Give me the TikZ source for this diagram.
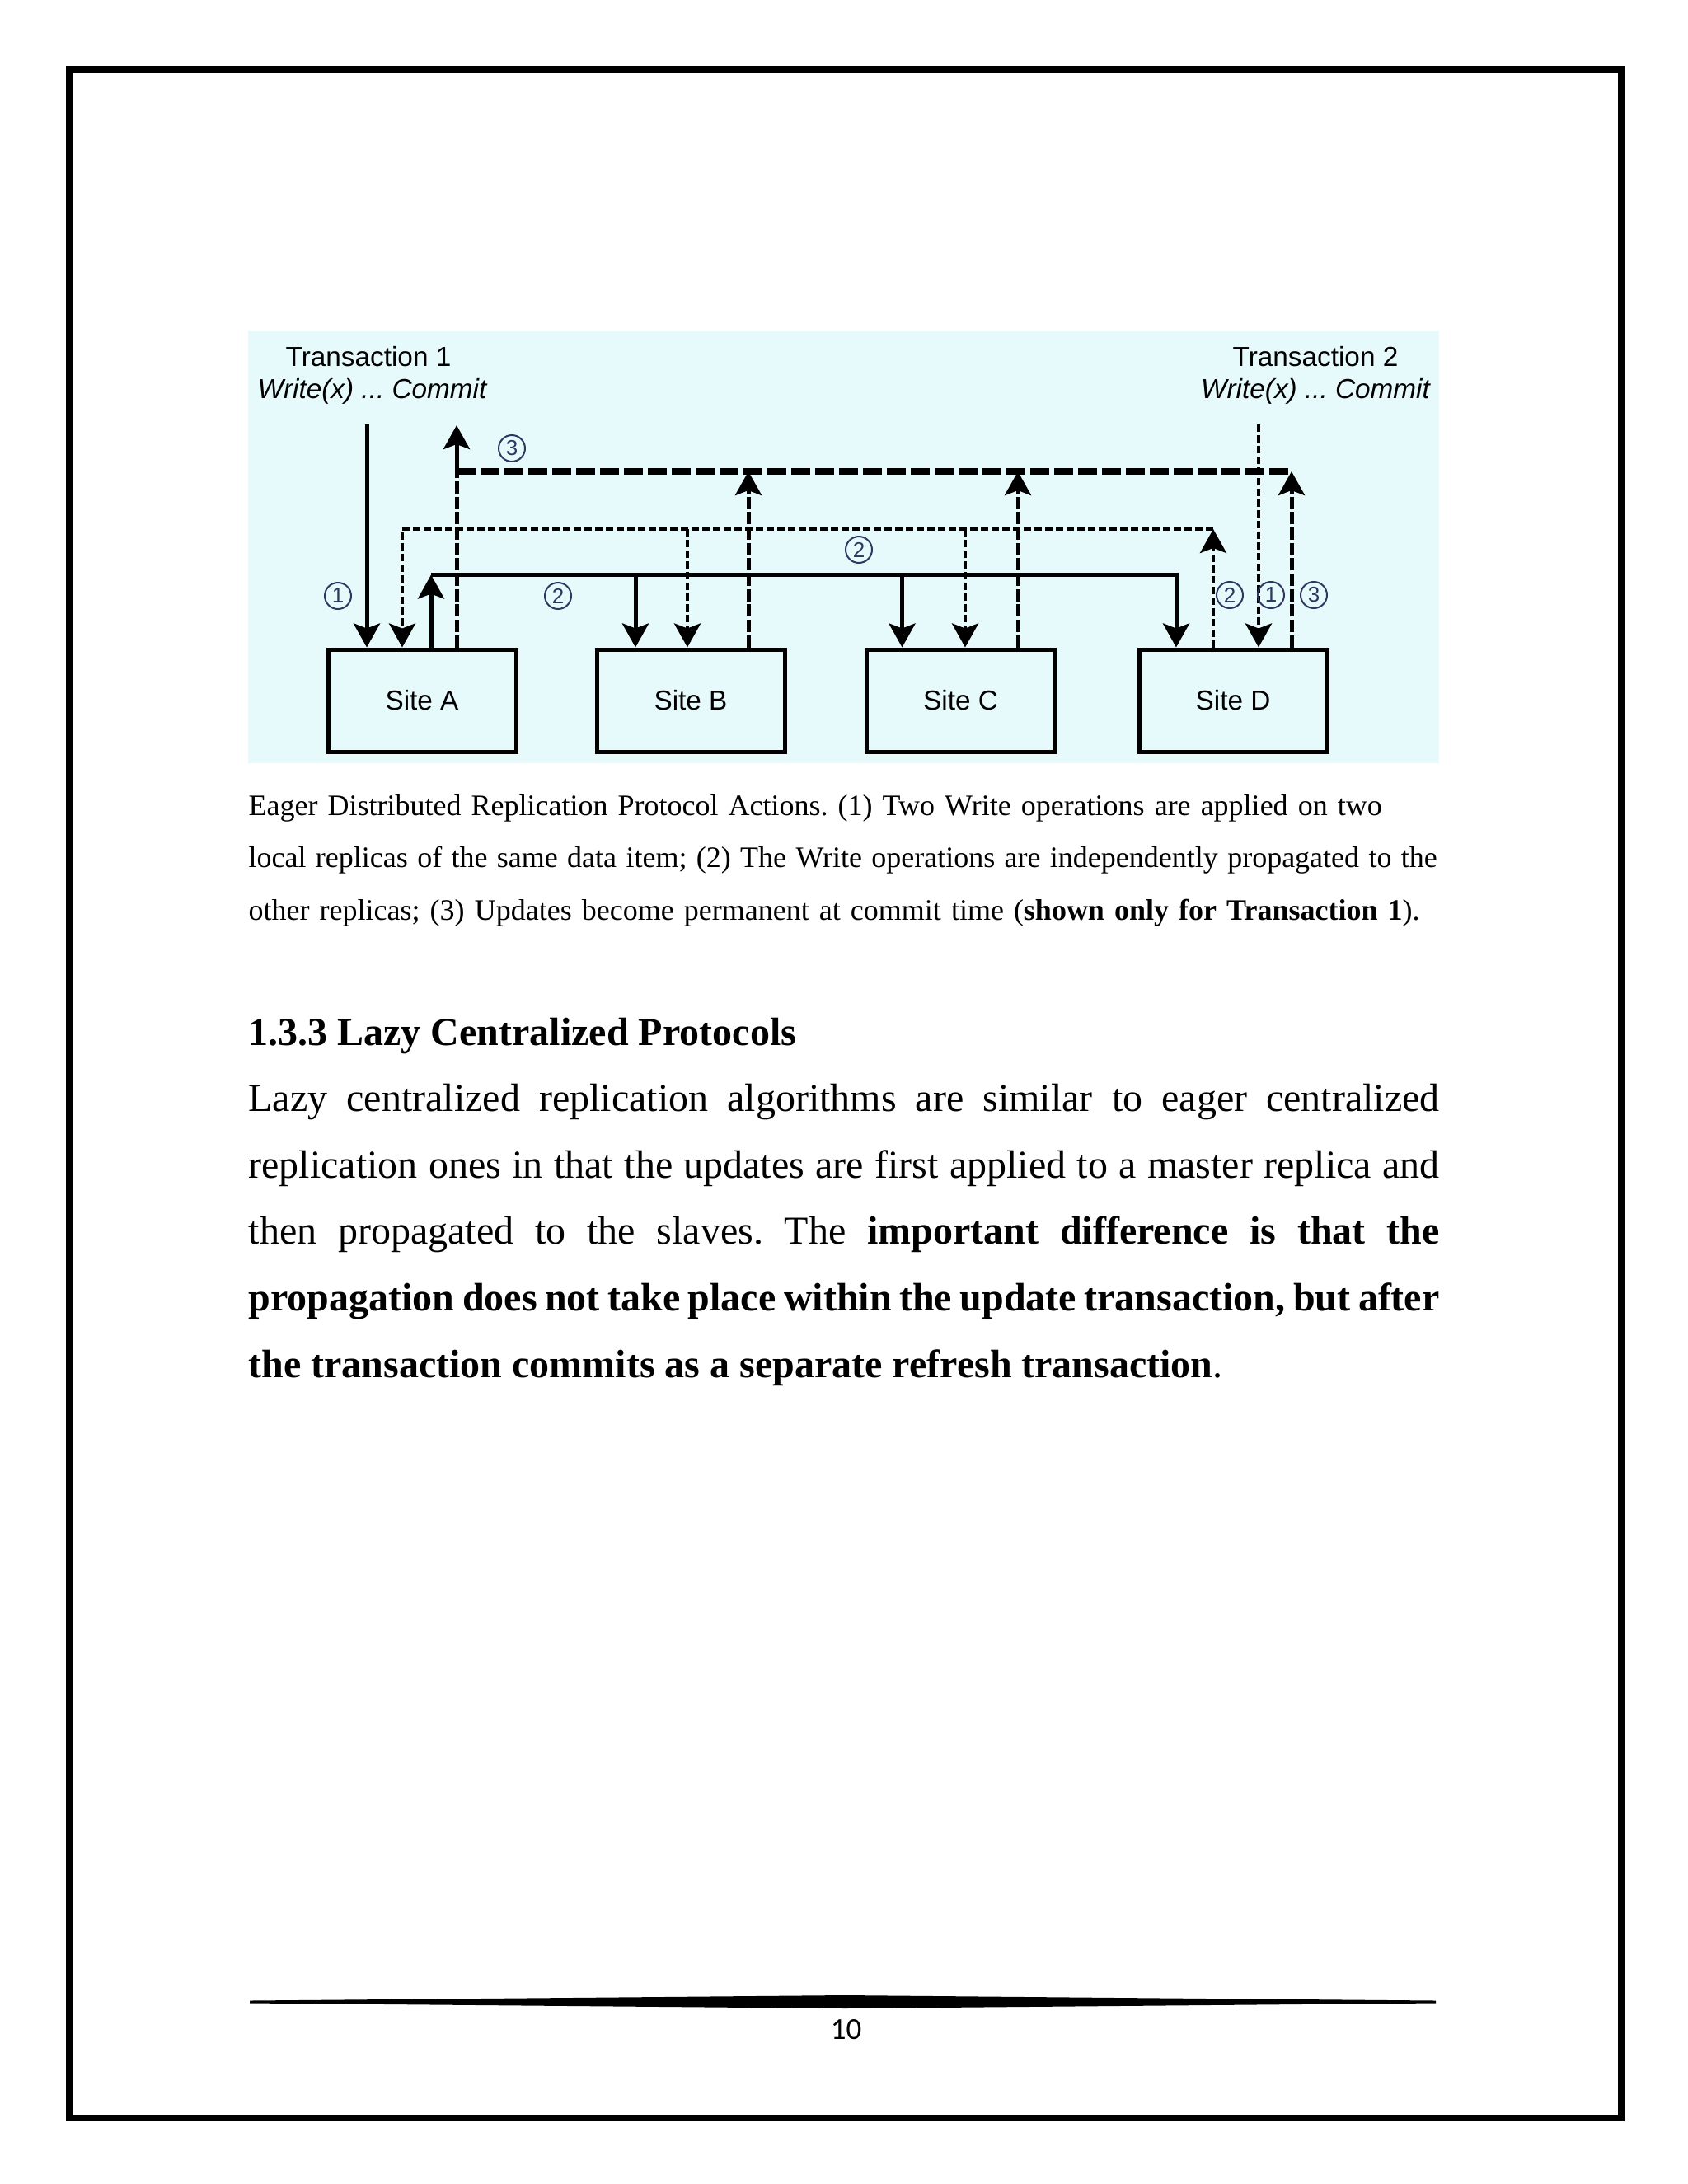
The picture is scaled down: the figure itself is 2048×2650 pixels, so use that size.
\documentclass[tikz,border=0pt]{standalone}
\usepackage{fontspec}
\setmainfont{Liberation Serif}
\newfontfamily\arial{Liberation Sans}
\newfontfamily\calib{Carlito}
\usetikzlibrary{arrows.meta}
\definecolor{bgcyan}{RGB}{230,250,252}
\definecolor{numcol}{RGB}{45,55,95}
\frenchspacing
\begin{document}
\begin{tikzpicture}[x=0.3pt,y=-0.3pt,
  site/.style={draw,line width=1.5pt,minimum width=68.4pt,minimum height=37.2pt,inner sep=0pt,font=\arial\fontsize{10}{12}\selectfont},
  lbl/.style={inner sep=0pt,font=\arial\fontsize{10}{12}\selectfont},
  num/.style={circle,draw=numcol,text=numcol,line width=0.6pt,minimum size=9.6pt,inner sep=0pt,font=\arial\fontsize{7.8}{8}\selectfont},
  arr/.style={-{Stealth[length=8.7pt,width=9.6pt,inset=1.8pt]}},
  tone/.style={line width=1.5pt},
  ttwo/.style={line width=1.35pt,dash pattern=on 2.7pt off 1.2pt},
  tthreev/.style={line width=1.5pt,dash pattern=on 4.5pt off 1.1pt},
  tthreeh/.style={line width=2.4pt,dash pattern=on 6.9pt off 1.8pt},
  txt/.style={inner sep=0pt,anchor=base west},
  captxt/.style={txt,font=\fontsize{10.8}{13}\selectfont},
  bodytxt/.style={txt,font=\fontsize{14.4}{17}\selectfont},
]
\useasboundingbox (0,0) rectangle (2048,2650);
\fill[white] (0,0) rectangle (2048,2650);
\draw[line width=2.4pt] (84,83.5) rectangle (1967,2570);
\fill[bgcyan] (301,402) rectangle (1746,926);

% sites
\node[site] (A) at (512,850) {Site A};
\node[site] (B) at (838,850) {Site B};
\node[site] (C) at (1165.5,850) {Site C};
\node[site] (D) at (1496,850) {Site D};

% transaction labels
\node[lbl,anchor=base] (t1) at (447,444) {Transaction 1};
\node[lbl,anchor=base] (w1) at (451.5,483) {\itshape Write(x) ... Commit};
\node[lbl,anchor=base] (t2) at (1596,444) {Transaction 2};
\node[lbl,anchor=base] (w2) at (1596,483) {\itshape Write(x) ... Commit};

% coordinates
\coordinate (xa1) at (445,0);
\coordinate (xa2) at (488,0);
\coordinate (xa3) at (523,0);
\coordinate (xa4) at (554,0);
\coordinate (xb1) at (771,0);
\coordinate (xb2) at (834,0);
\coordinate (xb3) at (908,0);
\coordinate (xc1) at (1094.5,0);
\coordinate (xc2) at (1171,0);
\coordinate (xc3) at (1235,0);
\coordinate (xd1) at (1427,0);
\coordinate (xd2) at (1472,0);
\coordinate (xd3) at (1527,0);
\coordinate (xd4) at (1567,0);
\coordinate (ytop) at (0,515);
\coordinate (ytip) at (0,516);
\coordinate (ythree) at (0,572);
\coordinate (ytwod) at (0,642);
\coordinate (ytwos) at (0,697.5);

% commit (3)
\draw[tthreeh] (xa4 |- ythree) -- (xd4 |- ythree);
\draw[tthreev] (xa4 |- A.north) -- (xa4 |- ythree);
\draw[tone,arr] (xa4 |- ythree) -- (xa4 |- ytip);
\draw[tthreev,arr] (xb3 |- B.north) -- (xb3 |- ythree);
\draw[tthreev,arr] (xc3 |- C.north) -- (xc3 |- ythree);
\draw[tthreev,arr] (xd4 |- D.north) -- (xd4 |- ythree);

% transaction 2
\draw[ttwo,arr] (xd3 |- ytop) -- (xd3 |- D.north);
\draw[ttwo,arr] (xd2 |- D.north) -- (xd2 |- ytwod);
\draw[ttwo,arr] (xd2 |- ytwod) -- (xa2 |- ytwod) -- (xa2 |- A.north);
\draw[ttwo,arr] (xb2 |- ytwod) -- (xb2 |- B.north);
\draw[ttwo,arr] (xc2 |- ytwod) -- (xc2 |- C.north);

% transaction 1
\draw[tone,arr] (xa1 |- ytop) -- (xa1 |- A.north);
\draw[tone,arr] (xa3 |- A.north) -- (xa3 |- ytwos);
\draw[tone,arr] (xa3 |- ytwos) -- (xd1 |- ytwos) -- (xd1 |- D.north);
\draw[tone,arr] (xb1 |- ytwos) -- (xb1 |- B.north);
\draw[tone,arr] (xc1 |- ytwos) -- (xc1 |- C.north);

% circled numbers
\node[num] (n1a) at (410,723) {1};
\node[num] (n2a) at (677,723) {2};
\node[num] (n3a) at (621,544) {3};
\node[num] (n2m) at (1042,667) {2};
\node[num] (n2d) at (1492,722) {2};
\node[num] (n1d) at (1542,722) {1};
\node[num] (n3d) at (1594,722) {3};

% caption
\node[captxt] (c1) at (301,989) {\makebox[412.5pt][s]{Eager Distributed Replication Protocol Actions. (1) Two Write operations are applied on two}};
\node[captxt] (c2) at (301,1052) {\makebox[432.6pt][s]{local replicas of the same data item; (2) The Write operations are independently propagated to the}};
\node[captxt] (c3) at (301,1116) {\makebox[426.3pt][s]{other replicas; (3) Updates become permanent at commit time (\textbf{shown only for Transaction 1}).}};

% heading and body
\node[bodytxt,font=\bfseries\fontsize{14.4}{17}\selectfont] (h) at (301,1268) {1.3.3 Lazy Centralized Protocols};
\node[bodytxt] (b1) at (301,1348) {\makebox[433.5pt][s]{Lazy centralized replication algorithms are similar to eager centralized}};
\node[bodytxt] (b2) at (301,1429) {\makebox[433.5pt][s]{replication ones in that the updates are first applied to a master replica and}};
\node[bodytxt] (b3) at (301,1509) {\makebox[433.5pt][s]{then propagated to the slaves. The \textbf{important difference is that the}}};
\node[bodytxt] (b4) at (301,1590) {\makebox[433.5pt][s]{\textbf{propagation does not take place within the update transaction, but after}}};
\node[bodytxt] (b5) at (301,1671) {\textbf{the transaction commits as a separate refresh transaction}.};

% footer
\fill (303,2427.5) -- (1025,2421) -- (1742,2427.5) -- (1742,2430.5) -- (1025,2437) -- (303,2430.5) -- cycle;
\node[inner sep=0pt,anchor=base,font=\calib\fontsize{11.1}{13}\selectfont] (pg) at (1026.5,2474) {10};
\end{tikzpicture}
\end{document}
